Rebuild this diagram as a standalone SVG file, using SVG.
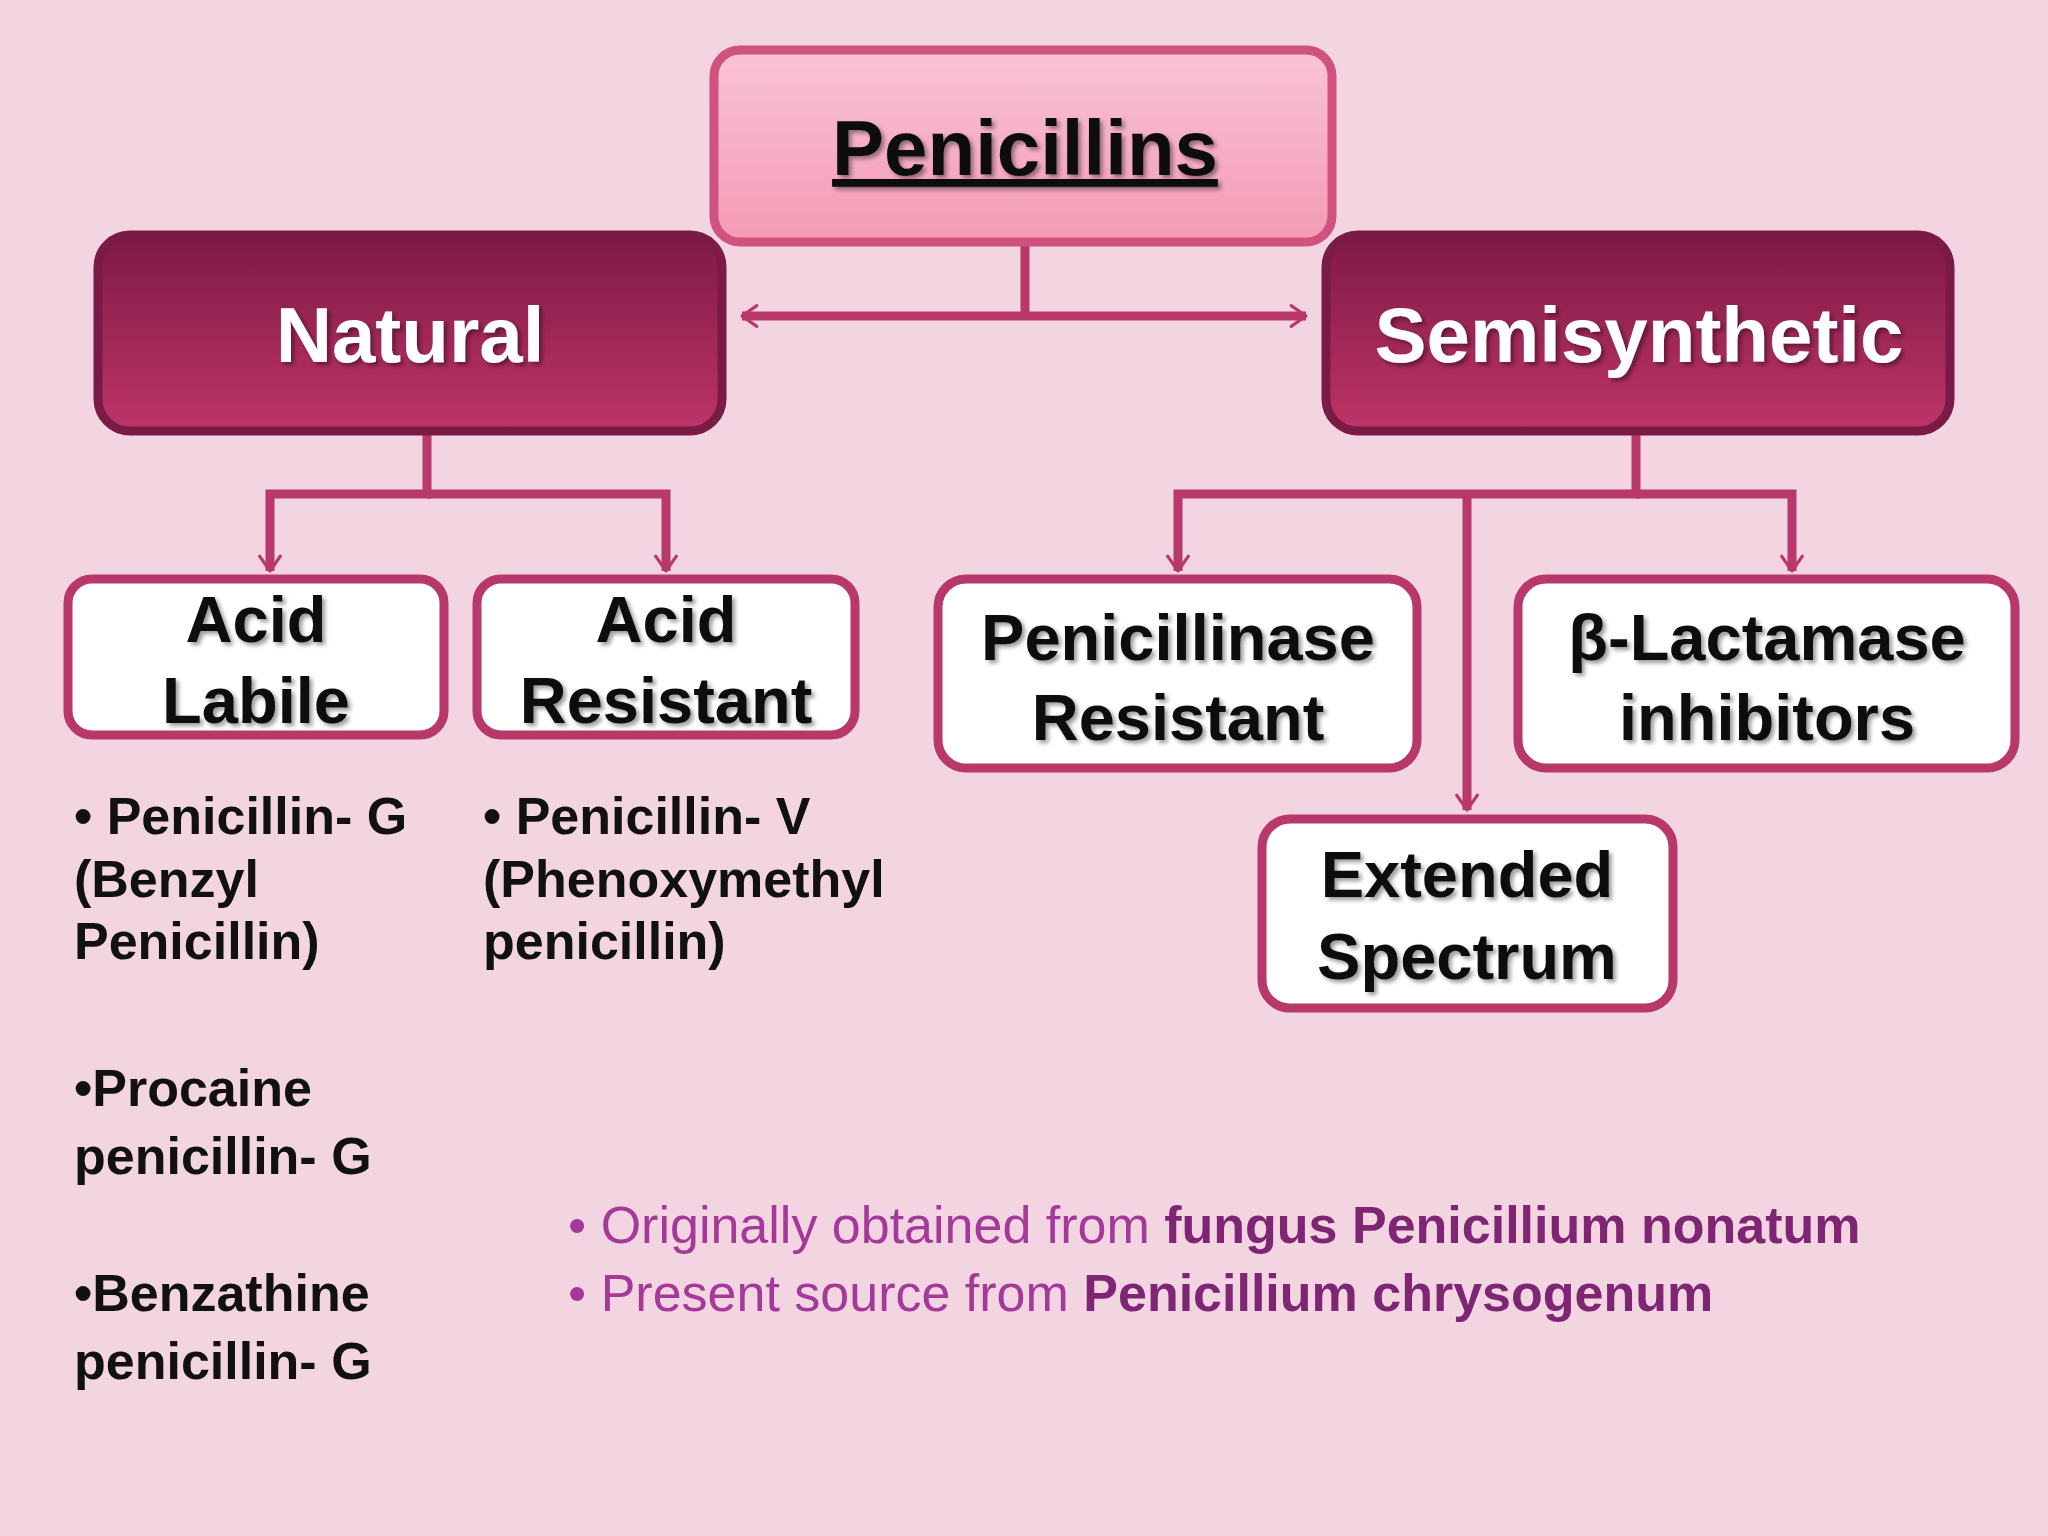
<svg xmlns="http://www.w3.org/2000/svg" width="2048" height="1536" viewBox="0 0 2048 1536">
<defs>
<linearGradient id="gTop" x1="0" y1="0" x2="0" y2="1"><stop offset="0" stop-color="#f9c4d4"/><stop offset="1" stop-color="#f49ab5"/></linearGradient>
<linearGradient id="gDark" x1="0" y1="0" x2="0" y2="1"><stop offset="0" stop-color="#7e1a44"/><stop offset="1" stop-color="#be3468"/></linearGradient>
<filter id="sh" x="-10%" y="-10%" width="120%" height="130%"><feDropShadow dx="3" dy="3" stdDeviation="2" flood-color="#000" flood-opacity="0.4"/></filter>
<marker id="chev" viewBox="0 0 20 20" refX="17" refY="10" markerWidth="8" markerHeight="8" markerUnits="userSpaceOnUse" orient="auto" overflow="visible">
<path d="M-20,-16 L17,10 L-20,36" fill="none" stroke="#b8386a" stroke-width="8" stroke-linecap="round" stroke-linejoin="round"/>
</marker>
</defs>
<style>
.t{font-family:"Liberation Sans",Arial,sans-serif;font-weight:bold;text-anchor:middle}
.w{fill:#fff;stroke:#b8386a;stroke-width:9}
.c{fill:none;stroke:#b8386a;stroke-width:9}
.b{font-family:"Liberation Sans",Arial,sans-serif;font-weight:bold;font-size:52px;fill:#111}
.n{font-family:"Liberation Sans",Arial,sans-serif;font-size:52px;fill:#a5399a}
.nb{font-weight:bold;fill:#7e2574}
</style>
<rect width="2048" height="1536" fill="#f3d5e2"/>
<g id="connectors">
<path class="c" d="M1025,242 V316"/>
<path class="c" d="M1025,316 H742" marker-end="url(#chev)"/>
<path class="c" d="M1025,316 H1306" marker-end="url(#chev)"/>
<path class="c" d="M427,431 V494 H270 V571" marker-end="url(#chev)"/>
<path class="c" d="M427,494 H666 V571" marker-end="url(#chev)"/>
<path class="c" d="M1636,431 V494 H1178 V571" marker-end="url(#chev)"/>
<path class="c" d="M1636,494 H1792 V571" marker-end="url(#chev)"/>
<path class="c" d="M1467,494 V810" marker-end="url(#chev)"/>
</g>
<g id="penicillins">
<rect x="714" y="50" width="618" height="192" rx="26" fill="url(#gTop)" stroke="#d0527f" stroke-width="9"/>
<text class="t" x="1025" y="175" font-size="78" fill="#111" text-decoration="underline" filter="url(#sh)">Penicillins</text>
</g>
<g id="natural">
<rect x="98" y="235" width="624" height="196" rx="32" fill="url(#gDark)" stroke="#7a1b45" stroke-width="9"/>
<text class="t" x="410" y="362" font-size="78" fill="#fff" filter="url(#sh)">Natural</text>
</g>
<g id="semisynthetic">
<rect x="1326" y="235" width="624" height="196" rx="32" fill="url(#gDark)" stroke="#7a1b45" stroke-width="9"/>
<text class="t" x="1639" y="362" font-size="78" fill="#fff" filter="url(#sh)">Semisynthetic</text>
</g>
<g id="acid-labile">
<rect class="w" x="68" y="579" width="376" height="156" rx="24"/>
<text class="t" x="256" y="642" font-size="65" fill="#111" filter="url(#sh)">Acid</text>
<text class="t" x="256" y="723" font-size="65" fill="#111" filter="url(#sh)">Labile</text>
</g>
<g id="acid-resistant">
<rect class="w" x="477" y="579" width="378" height="156" rx="24"/>
<text class="t" x="666" y="642" font-size="65" fill="#111" filter="url(#sh)">Acid</text>
<text class="t" x="666" y="723" font-size="65" fill="#111" filter="url(#sh)">Resistant</text>
</g>
<g id="penicillinase-resistant">
<rect class="w" x="938" y="579" width="479" height="189" rx="28"/>
<text class="t" x="1178" y="660" font-size="65" fill="#111" filter="url(#sh)">Penicillinase</text>
<text class="t" x="1178" y="740" font-size="65" fill="#111" filter="url(#sh)">Resistant</text>
</g>
<g id="beta-lactamase">
<rect class="w" x="1518" y="579" width="497" height="189" rx="28"/>
<text class="t" x="1767" y="660" font-size="65" fill="#111" filter="url(#sh)">β-Lactamase</text>
<text class="t" x="1767" y="740" font-size="65" fill="#111" filter="url(#sh)">inhibitors</text>
</g>
<g id="extended-spectrum">
<rect class="w" x="1262" y="819" width="411" height="189" rx="28"/>
<text class="t" x="1467" y="897" font-size="65" fill="#111" filter="url(#sh)">Extended</text>
<text class="t" x="1467" y="979" font-size="65" fill="#111" filter="url(#sh)">Spectrum</text>
</g>
<g id="lists">
<text class="b" x="74" y="834">• Penicillin- G</text>
<text class="b" x="74" y="897">(Benzyl</text>
<text class="b" x="74" y="959">Penicillin)</text>
<text class="b" x="74" y="1106">•Procaine</text>
<text class="b" x="74" y="1174">penicillin- G</text>
<text class="b" x="74" y="1311">•Benzathine</text>
<text class="b" x="74" y="1379">penicillin- G</text>
<text class="b" x="483" y="834">• Penicillin- V</text>
<text class="b" x="483" y="897">(Phenoxymethyl</text>
<text class="b" x="483" y="959">penicillin)</text>
<text class="n" x="568" y="1243">• Originally obtained from <tspan class="nb">fungus Penicillium nonatum</tspan></text>
<text class="n" x="568" y="1311">• Present source from <tspan class="nb">Penicillium chrysogenum</tspan></text>
</g>
</svg>
